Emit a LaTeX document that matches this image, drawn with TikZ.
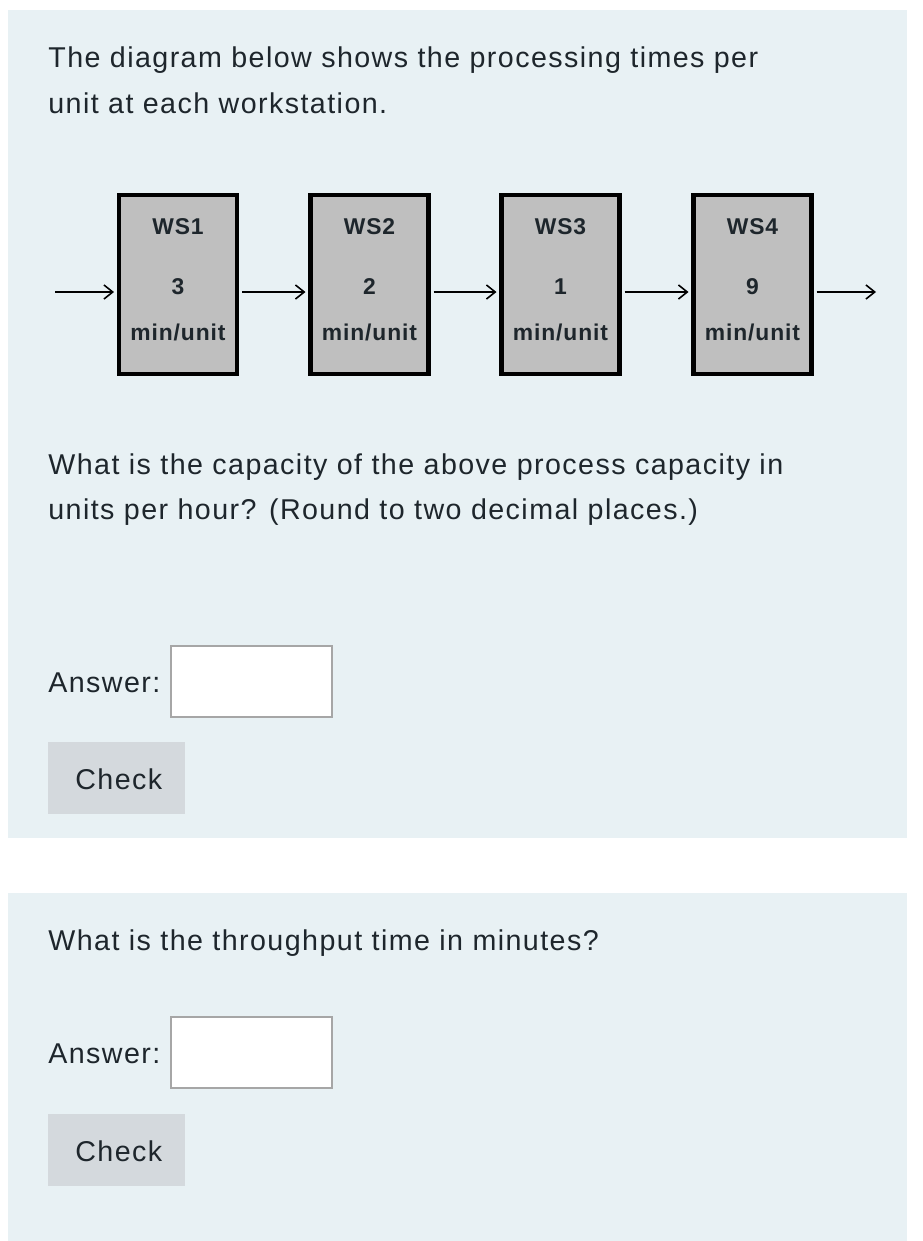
\documentclass[tikz,border=0pt]{standalone}
\usepackage{fontspec}
\setmainfont{Liberation Sans}
\usetikzlibrary{arrows.meta}
\definecolor{panel}{RGB}{232,241,244}
\definecolor{btn}{RGB}{212,217,221}
\definecolor{tx}{RGB}{30,38,44}
\begin{document}
\begin{tikzpicture}[x=0.02cm,y=-0.02cm,
  txt/.style={anchor=base west,inner sep=0pt,font=\fontsize{16.3}{18}\selectfont\addfontfeature{LetterSpace=5},text=tx},
  btxt/.style={font=\bfseries\fontsize{13}{14}\selectfont\addfontfeature{LetterSpace=4},inner sep=0pt,text=tx},
  ans/.style={draw=black!35,fill=white,line width=0.6pt},
  chk/.style={fill=btn},
  arr/.style={-{Straight Barb[length=5pt,width=8pt,line width=0.9pt]},line width=0.9pt}]
\useasboundingbox (0,0) rectangle (923,1241);
\fill[white] (0,0) rectangle (923,1241);
\fill[panel] (8,10) rectangle (907,838);
\fill[panel] (8,893) rectangle (907,1241);
\node[txt] (t1) at (48,67) {The diagram below shows the processing times per};
\node[txt] (t2) at (48,113) {unit at each workstation.};
\foreach \i/\x/\v in {1/178/3,2/369.5/2,3/560.5/1,4/752.5/9}{
  \draw[line width=2.4pt,fill=black!25] (\x-59,195) rectangle (\x+59,374);
  \node[btxt] (w\i) at (\x,227) {WS\i};
  \node[btxt] (n\i) at (\x,287) {\v};
  \node[btxt] (m\i) at (\x,332) {min/unit};
  \coordinate (L\i) at (\x-64,292);
  \coordinate (R\i) at (\x+64,292);
}
\coordinate (s) at (55,292); \coordinate (e) at (876,292);
\draw[arr] (s) -- (L1);
\draw[arr] (R1) -- (L2);
\draw[arr] (R2) -- (L3);
\draw[arr] (R3) -- (L4);
\draw[arr] (R4) -- (e);
\node[txt] (q1) at (48,474) {What is the capacity of the above process capacity in};
\node[txt] (q2) at (48,519) {units per hour? (Round to two decimal places.)};
\node[txt] (a1) at (48,692) {Answer:};
\draw[ans] (171,646) rectangle (332,717);
\fill[chk] (48,742) rectangle (185,814);
\node[txt] (c1) at (75,789) {Check};
\node[txt] (q3) at (48,950) {What is the throughput time in minutes?};
\node[txt] (a2) at (48,1063) {Answer:};
\draw[ans] (171,1017) rectangle (332,1088);
\fill[chk] (48,1114) rectangle (185,1186);
\node[txt] (c2) at (75,1161) {Check};
\end{tikzpicture}
\end{document}
